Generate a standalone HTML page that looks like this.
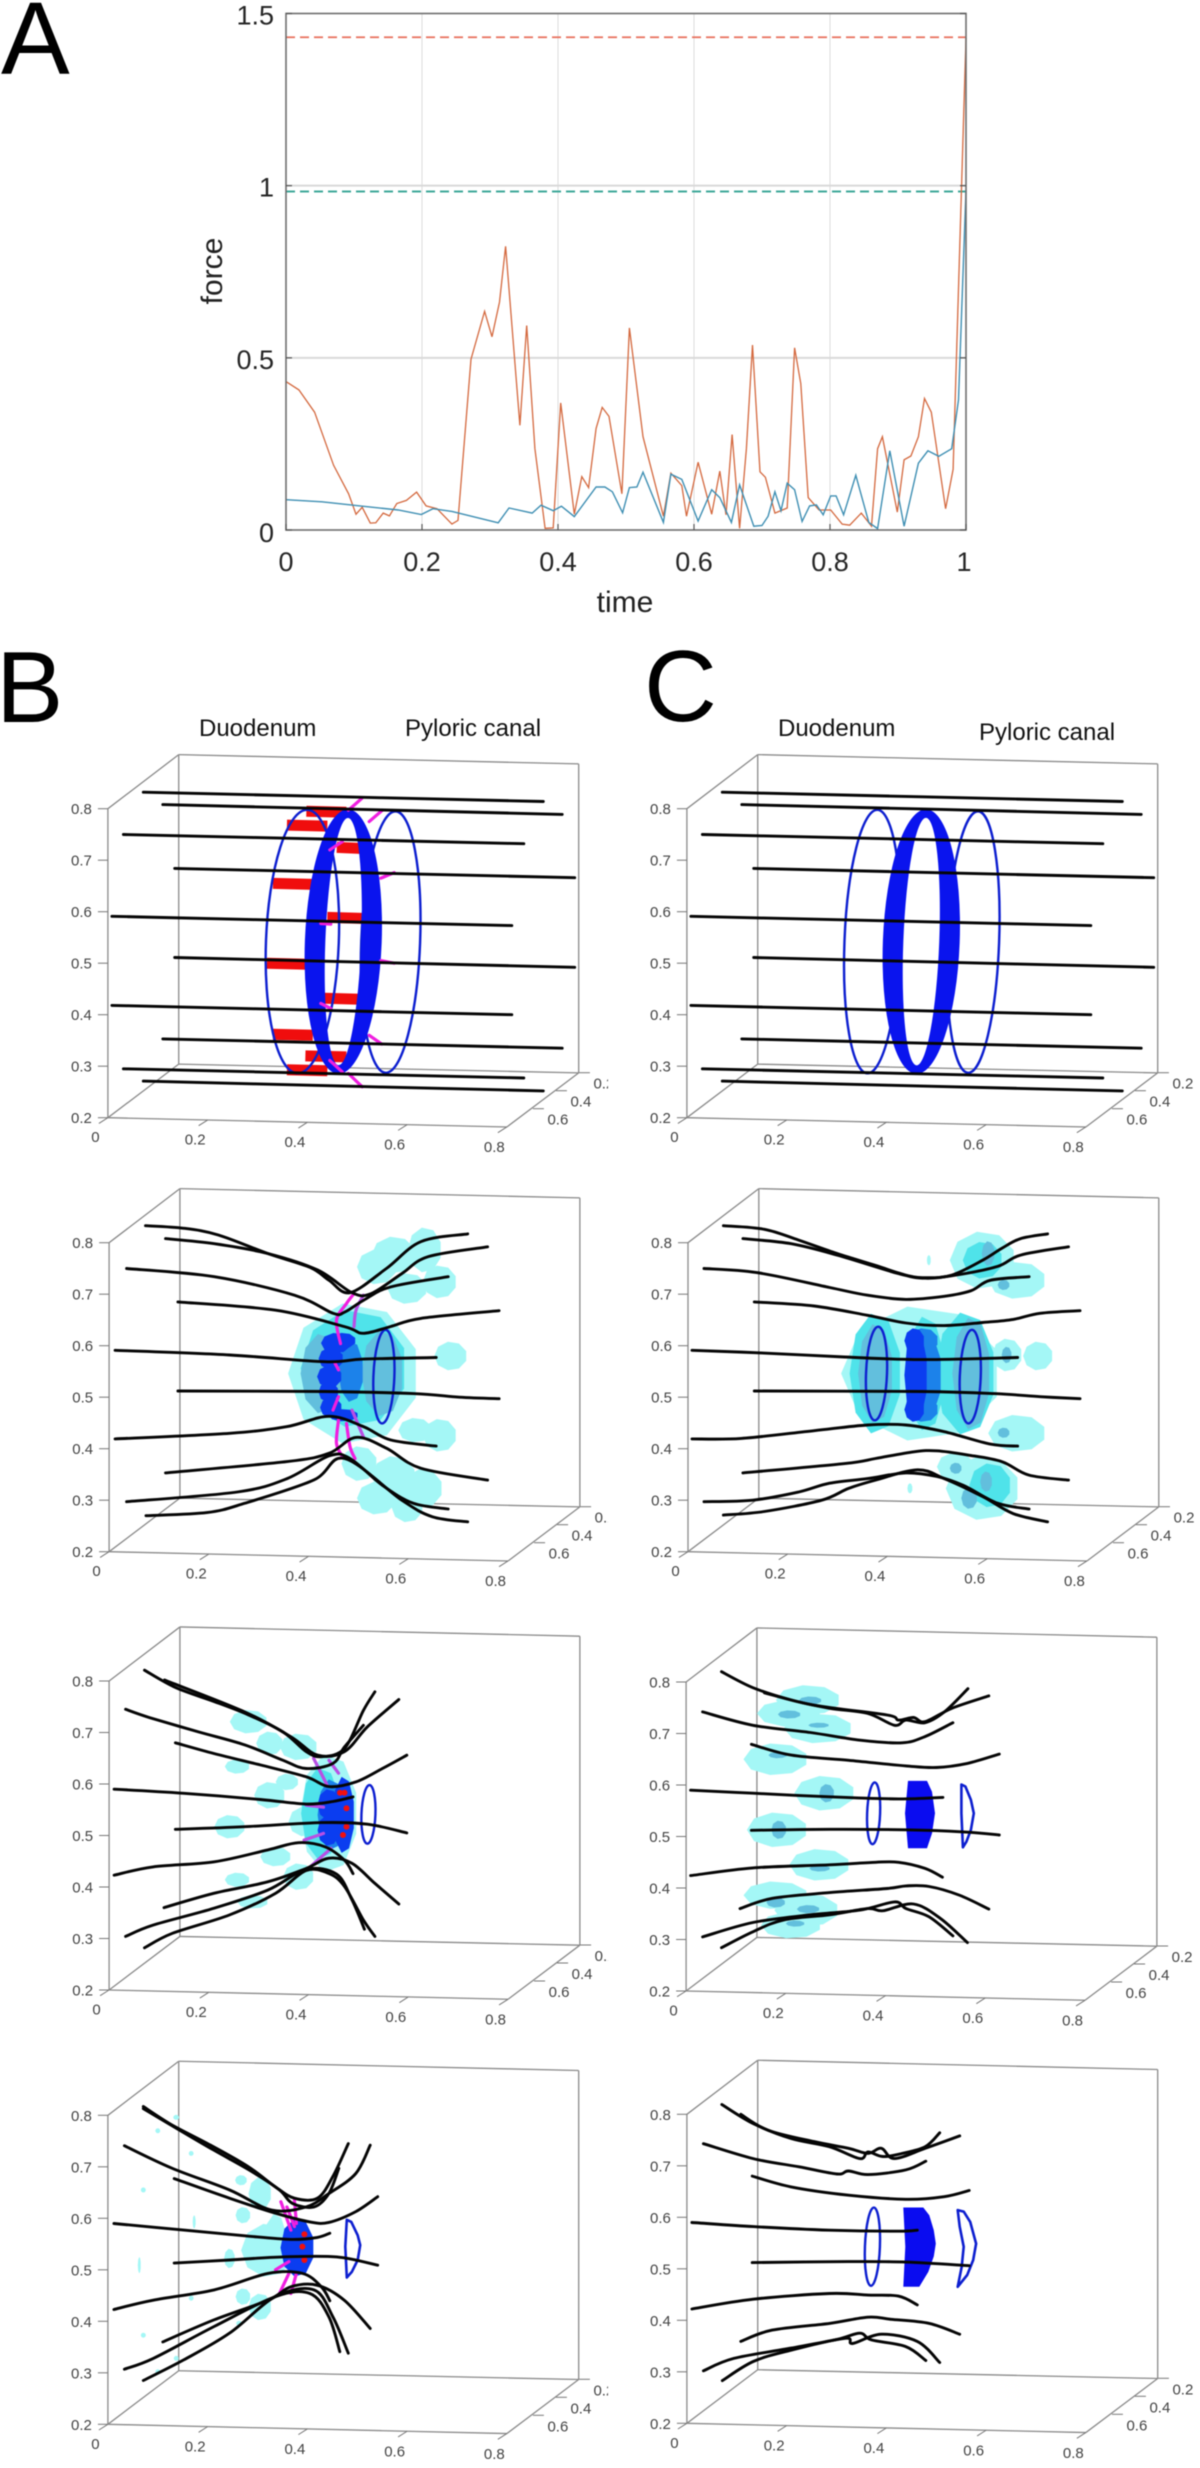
<!DOCTYPE html>
<html lang="en">
<head>
<meta charset="utf-8">
<title>Force over time and 3D duodenum simulation panels</title>
<style>
html,body{margin:0;padding:0;background:#fff;width:1200px;height:2468px;overflow:hidden}
svg{display:block;font-family:"Liberation Sans",Arial,sans-serif;filter:blur(0.5px)}
</style>
</head>
<body>
<svg id="fig" xmlns="http://www.w3.org/2000/svg" width="1200" height="2468" viewBox="0 0 1200 2468">
  <defs><clipPath id="clip-left"><rect x="0" y="0" width="608" height="2468"/></clipPath></defs>
  <rect width="1200" height="2468" fill="#fff"/>
  <text x="1" y="74" font-size="103" fill="#000">A</text>
  <text x="-4" y="722" font-size="101" fill="#000">B</text>
  <text x="644" y="721" font-size="101" fill="#000">C</text>
  <text transform="translate(222,271) rotate(-90)" text-anchor="middle" font-size="30" fill="#222">force</text>
  <text x="625" y="612" text-anchor="middle" font-size="30" fill="#222">time</text>
  <text x="199" y="736" font-size="24" fill="#111">Duodenum</text>
  <text x="405" y="736" font-size="24" fill="#111">Pyloric canal</text>
  <text x="778" y="736" font-size="24" fill="#111">Duodenum</text>
  <text x="979" y="740" font-size="24" fill="#111">Pyloric canal</text>
</svg>
<script>
/* ---------- Panel A data ---------- */
const xTicksA = [0, 0.2, 0.4, 0.6, 0.8, 1];
const yTicksA = [0, 0.5, 1, 1.5];
const thresholdOrange = 1.431;
const thresholdBlue = 0.983;
const timeOrange = [0,.019,.042,.07,.092,.103,.112,.124,.132,.143,.152,.163,.177,.192,.206,.222,.244,.253,.272,.292,.303,.314,.323,.344,.354,.366,.381,.393,.404,.424,.435,.445,.456,.465,.475,.494,.505,.525,.555,.566,.582,.589,.606,.626,.638,.647,.656,.667,.677,.686,.697,.705,.719,.737,.748,.757,.768,.784,.801,.818,.829,.846,.861,.87,.877,.899,.909,.919,.93,.939,.949,.97,.981,1];
const forceOrange = [.431,.407,.342,.188,.105,.046,.066,.02,.021,.049,.041,.077,.086,.11,.07,.062,.017,.028,.496,.635,.561,.662,.824,.304,.594,.236,.005,.006,.369,.046,.155,.123,.295,.356,.33,.105,.587,.271,.04,.165,.129,.04,.197,.046,.171,.044,.277,.005,.236,.537,.169,.153,.049,.064,.529,.425,.094,.058,.058,.017,.014,.049,.011,.236,.271,.052,.204,.215,.271,.382,.342,.062,.176,1.43];
const timeBlue = [0,.053,.109,.165,.199,.216,.244,.312,.328,.362,.375,.393,.405,.424,.456,.469,.48,.495,.505,.516,.525,.555,.566,.582,.606,.626,.638,.655,.667,.688,.7,.709,.719,.728,.737,.748,.759,.77,.78,.79,.801,.809,.82,.838,.857,.87,.888,.909,.93,.944,.96,.979,.989,1];
const forceBlue = [.088,.082,.07,.058,.045,.062,.054,.021,.064,.049,.072,.056,.069,.039,.125,.125,.111,.05,.123,.125,.168,.022,.162,.147,.026,.117,.094,.022,.131,.011,.013,.04,.111,.056,.136,.117,.025,.07,.073,.044,.099,.099,.044,.159,.022,.004,.23,.011,.194,.23,.214,.236,.378,.987];

/* ---------- 3D panel tick labels ---------- */
const frontTicks = [0, 0.2, 0.4, 0.6, 0.8];
const heightTicks = [0.2, 0.3, 0.4, 0.5, 0.6, 0.7, 0.8];
const depthTicks = [0.2, 0.4, 0.6];

/* ---------- Tube centre-lines, [projected x, height] ---------- */
const tubesStart = [
 [[.071,.832],[.873,.814]],[[.110,.808],[.911,.789]],[[.031,.750],[.834,.732]],[[.134,.684],[.936,.666]],[[.008,.591],[.810,.573]],
 [[.134,.511],[.936,.492]],[[.008,.418],[.810,.400]],[[.110,.353],[.911,.335]],[[.031,.295],[.834,.277]],[[.071,.271],[.873,.252]]
];
const tubesB2 = [
 [[.073,.833],[.150,.828],[.219,.815],[.318,.779],[.403,.752],[.441,.727],[.483,.703],[.556,.750],[.625,.802],[.719,.817]],
 [[.113,.808],[.211,.798],[.318,.779],[.418,.747],[.487,.703],[.525,.701],[.587,.740],[.640,.773],[.759,.792]],
 [[.035,.750],[.211,.734],[.372,.698],[.449,.663],[.472,.665],[.510,.688],[.564,.714],[.680,.734]],
 [[.138,.685],[.334,.669],[.472,.637],[.510,.624],[.564,.637],[.625,.653],[.782,.668]],
 [[.012,.591],[.242,.582],[.433,.569],[.510,.574],[.656,.577]],
 [[.138,.512],[.433,.511],[.610,.507],[.702,.500],[.782,.497]],
 [[.012,.419],[.242,.430],[.357,.443],[.441,.463],[.510,.443],[.564,.417],[.656,.405]],
 [[.113,.353],[.357,.375],[.441,.391],[.495,.422],[.556,.401],[.625,.362],[.759,.339]],
 [[.035,.297],[.257,.316],[.357,.342],[.441,.386],[.483,.381],[.548,.329],[.610,.294],[.680,.283]],
 [[.074,.270],[.196,.276],[.272,.294],[.410,.339],[.472,.381],[.587,.300],[.648,.268],[.719,.258]]
];
const tubesC2 = [
 [[.071,.833],[.153,.826],[.222,.805],[.299,.779],[.376,.756],[.437,.737],[.476,.732],[.529,.737],[.591,.766],[.629,.789],[.667,.808],[.721,.817]],
 [[.110,.808],[.207,.798],[.299,.776],[.422,.740],[.476,.731],[.537,.737],[.621,.754],[.667,.776],[.763,.792]],
 [[.032,.750],[.138,.742],[.284,.713],[.360,.698],[.437,.690],[.514,.696],[.568,.707],[.606,.727],[.684,.734]],
 [[.133,.685],[.253,.677],[.360,.659],[.437,.644],[.514,.639],[.591,.645],[.652,.651],[.706,.663],[.786,.668]],
 [[.008,.591],[.146,.586],[.314,.578],[.468,.573],[.661,.577]],
 [[.133,.512],[.468,.511],[.614,.507],[.706,.501],[.786,.497]],
 [[.008,.419],[.107,.420],[.253,.435],[.360,.446],[.437,.446],[.514,.433],[.606,.409],[.661,.405]],
 [[.110,.353],[.314,.371],[.376,.381],[.453,.394],[.499,.396],[.560,.388],[.629,.375],[.683,.349],[.763,.339]],
 [[.032,.297],[.130,.300],[.222,.316],[.284,.333],[.360,.342],[.437,.353],[.499,.346],[.552,.329],[.621,.294],[.684,.283]],
 [[.071,.271],[.153,.278],[.268,.300],[.322,.323],[.376,.339],[.460,.359],[.514,.342],[.591,.307],[.652,.274],[.721,.258]]
];
const tubesB3 = [
 [[.071,.821],[.134,.787],[.211,.760],[.280,.734],[.349,.701],[.395,.663],[.426,.653],[.472,.669],[.510,.743],[.533,.779]],
 [[.111,.802],[.272,.740],[.364,.692],[.418,.656],[.472,.663],[.518,.711],[.581,.764]],
 [[.033,.745],[.081,.729],[.180,.701],[.272,.676],[.349,.646],[.395,.630],[.449,.640],[.472,.672],[.510,.714]],
 [[.133,.680],[.211,.659],[.303,.637],[.395,.614],[.441,.595],[.495,.604],[.548,.630],[.597,.656]],
 [[.010,.590],[.150,.582],[.303,.570],[.395,.561],[.449,.566],[.489,.575]],
 [[.133,.512],[.272,.517],[.426,.525],[.518,.522],[.597,.505]],
 [[.010,.423],[.088,.439],[.211,.449],[.318,.472],[.380,.486],[.433,.478],[.472,.452],[.489,.426]],
 [[.110,.360],[.211,.388],[.318,.410],[.395,.436],[.441,.456],[.487,.446],[.533,.407],[.581,.367]],
 [[.033,.304],[.088,.326],[.211,.359],[.318,.394],[.395,.434],[.456,.425],[.487,.375],[.512,.318]],
 [[.071,.282],[.127,.310],[.242,.346],[.334,.388],[.395,.432],[.441,.426],[.472,.401],[.510,.336],[.533,.304]]
];
const tubesC3 = [
 [[.071,.820],[.134,.789],[.211,.765],[.288,.749],[.364,.739],[.418,.716],[.441,.726],[.479,.721],[.518,.742],[.565,.787]],
 [[.157,.779],[.257,.755],[.403,.736],[.426,.726],[.456,.731],[.479,.723],[.533,.749],[.607,.773]],
 [[.033,.742],[.134,.716],[.249,.702],[.349,.687],[.433,.682],[.479,.694],[.535,.721]],
 [[.131,.679],[.211,.658],[.326,.648],[.441,.637],[.502,.634],[.564,.642],[.628,.660]],
 [[.009,.590],[.134,.584],[.288,.577],[.426,.573],[.515,.576]],
 [[.131,.512],[.288,.514],[.441,.513],[.556,.509],[.628,.503]],
 [[.009,.424],[.134,.439],[.288,.445],[.380,.450],[.426,.450],[.479,.438],[.514,.421]],
 [[.108,.360],[.173,.380],[.288,.391],[.403,.399],[.441,.404],[.487,.403],[.548,.386],[.607,.359]],
 [[.033,.305],[.134,.333],[.249,.348],[.349,.357],[.418,.373],[.441,.360],[.487,.344],[.535,.307]],
 [[.071,.284],[.134,.315],[.196,.338],[.288,.348],[.364,.360],[.395,.356],[.456,.369],[.510,.341],[.564,.294]]
];
const tubesB4 = [
 [[.071,.817],[.129,.781],[.206,.742],[.282,.700],[.336,.661],[.374,.639],[.420,.639],[.451,.681],[.482,.745]],
 [[.071,.813],[.144,.771],[.213,.732],[.290,.690],[.344,.655],[.370,.629],[.413,.622],[.443,.648],[.463,.697]],
 [[.033,.741],[.129,.697],[.244,.655],[.328,.616],[.397,.622],[.443,.648],[.497,.687],[.526,.742]],
 [[.133,.677],[.244,.639],[.336,.610],[.405,.593],[.443,.592],[.497,.613],[.541,.642]],
 [[.012,.590],[.152,.577],[.275,.566],[.367,.559],[.420,.563],[.445,.571]],
 [[.133,.513],[.244,.519],[.351,.525],[.459,.525],[.541,.509]],
 [[.012,.423],[.091,.441],[.213,.461],[.321,.493],[.390,.493],[.428,.467],[.445,.440]],
 [[.110,.360],[.213,.403],[.321,.441],[.367,.467],[.420,.470],[.474,.441],[.526,.386]],
 [[.033,.307],[.091,.328],[.213,.390],[.336,.448],[.405,.454],[.443,.409],[.465,.341]],
 [[.071,.285],[.152,.325],[.244,.377],[.336,.448],[.413,.461],[.451,.409],[.482,.338]]
];
const tubesC4 = [
 [[.070,.819],[.133,.782],[.209,.753],[.286,.737],[.347,.714],[.363,.727],[.393,.718],[.432,.724],[.478,.737],[.507,.764]],
 [[.108,.800],[.163,.769],[.255,.747],[.324,.734],[.363,.724],[.390,.734],[.416,.714],[.478,.734],[.547,.758]],
 [[.033,.743],[.133,.714],[.225,.698],[.301,.684],[.324,.690],[.363,.683],[.439,.692],[.479,.709]],
 [[.131,.680],[.209,.659],[.324,.643],[.439,.635],[.516,.640],[.566,.652]],
 [[.010,.590],[.133,.582],[.286,.575],[.424,.573],[.462,.575]],
 [[.131,.512],[.324,.514],[.439,.513],[.566,.506]],
 [[.010,.422],[.133,.441],[.286,.452],[.363,.449],[.424,.447],[.462,.430]],
 [[.108,.359],[.171,.381],[.286,.394],[.363,.406],[.409,.402],[.486,.394],[.547,.373]],
 [[.033,.302],[.094,.326],[.209,.346],[.301,.363],[.347,.375],[.370,.362],[.439,.349],[.479,.322]],
 [[.071,.283],[.133,.320],[.209,.342],[.317,.365],[.332,.355],[.390,.373],[.462,.359],[.507,.318]]
];

/* ---------- Rings: [x, height, radius x, radius height] ---------- */
const ringsB1 = [[.390,.542,.073,.256],[.567,.541,.059,.254]];
const ringsC1 = [[.372,.542,.056,.256],[.574,.541,.052,.254]];
const thickB1 = [.472,.542,.077,.257,.036,.240];
const thickC1 = [.470,.542,.077,.257,.036,.240];
const ringsB2 = [[.551,.540,.021,.091]];
const ringsC2 = [[.378,.546,.021,.091],[.566,.540,.021,.091]];
const ringsB3 = [[.520,.541,.014,.057]];
const ringsC3 = [[.376,.545,.013,.060]];
const ringsC4 = [[.372,.543,.015,.076]];
const outlineC3 = [[.552,.601],[.560,.597],[.571,.571],[.577,.545],[.571,.513],[.562,.490],[.555,.479],[.552,.545]];
const outlineB4 = [[.479,.597],[.488,.593],[.501,.567],[.506,.548],[.501,.519],[.489,.496],[.479,.485],[.476,.545]];
const outlineC4 = [[.543,.614],[.555,.611],[.568,.591],[.580,.549],[.574,.517],[.562,.488],[.543,.465],[.551,.504],[.555,.543],[.547,.582]];
const solidC3 = [[.445,.608],[.483,.608],[.493,.587],[.499,.545],[.493,.506],[.483,.477],[.445,.477],[.439,.545]];
const solidC4 = [[.434,.619],[.474,.619],[.486,.604],[.495,.575],[.499,.549],[.495,.524],[.484,.494],[.466,.465],[.434,.465],[.438,.543]];

/* ---------- Contact bars and contact-force segments in the first row of B ---------- */
const redBarsB1 = [[.398,.478,.795],[.359,.440,.768],[.459,.505,.725],[.331,.411,.655],[.440,.509,.589],[.319,.399,.500],[.434,.505,.432],[.331,.411,.362],[.396,.478,.320],[.359,.440,.293]];
const magentaB1 = [
 [[.482,.797],[.509,.820]],[[.524,.775],[.549,.796]],[[.445,.720],[.470,.736]],[[.547,.665],[.574,.676]],[[.427,.577],[.447,.576]],
 [[.547,.505],[.574,.500]],[[.427,.422],[.447,.412]],[[.524,.360],[.549,.343]],[[.445,.311],[.470,.289]],[[.482,.286],[.510,.260]]
];
const magentaB2 = [
 [[.491,.701],[.476,.682],[.456,.650],[.464,.604]],
 [[.460,.456],[.456,.410],[.468,.384]],
 [[.476,.449],[.483,.404],[.493,.381]],
 [[.453,.566],[.460,.553]],
 [[.460,.501],[.449,.475]]
];
const purpleB2 = [[[.510,.698],[.495,.669],[.491,.637]],[[.487,.475],[.510,.423]]];
const magentaB3 = [];
const purpleB3 = [[[.410,.650],[.437,.598]],[[.441,.646],[.460,.621]],[[.395,.559],[.430,.555]],[[.391,.491],[.430,.504]],[[.403,.439],[.445,.475]]];
const magentaB4 = [[[.347,.632],[.367,.577]],[[.374,.635],[.378,.590]],[[.359,.622],[.374,.584]],[[.336,.500],[.363,.516]],[[.344,.454],[.363,.493]],[[.367,.454],[.378,.493]]];
const redDotsB3 = [[.472,.583],[.469,.501],[.476,.553],[.476,.517],[.463,.583]];
const redDotsB4 = [[.394,.569],[.390,.545],[.394,.519]];

/* ---------- Pressure contours, level then [x, height, radius x, radius height] ---------- */
const contourB2 = [
 [[.491,.546,.132,.138],[.537,.753,.040,.034],[.571,.776,.045,.036],[.633,.786,.034,.044],[.663,.724,.034,.032],[.598,.711,.040,.030],[.685,.580,.033,.028],[.663,.426,.034,.032],[.614,.436,.034,.024],[.502,.371,.036,.034],[.571,.346,.044,.040],[.537,.304,.040,.032],[.629,.323,.040,.038],[.598,.287,.032,.030]],
 [[.491,.556,.107,.115]],
 [[.426,.546,.042,.078],[.548,.546,.042,.084]],
 [[.485,.550,.025,.060]],
 [[.455,.605,.030,.020],[.445,.575,.025,.022],[.442,.540,.025,.022],[.440,.510,.020,.020],[.445,.480,.022,.020],[.470,.465,.030,.012],[.470,.610,.025,.015]]
];
const contourC2 = [
 [[.468,.546,.161,.132],[.591,.766,.066,.056],[.660,.727,.058,.036],[.702,.580,.030,.028],[.640,.582,.030,.032],[.660,.430,.058,.036],[.591,.323,.074,.062],[.537,.365,.038,.028],[.483,.766,.004,.010],[.445,.323,.005,.010]],
 [[.376,.546,.052,.118],[.556,.546,.060,.120],[.476,.546,.040,.112],[.591,.766,.040,.036],[.606,.329,.042,.043]],
 [[.376,.546,.035,.097],[.568,.546,.038,.110],[.602,.779,.013,.024],[.633,.718,.012,.010],[.633,.431,.012,.010],[.564,.304,.016,.021],[.598,.336,.012,.020],[.537,.362,.012,.011],[.639,.582,.010,.016]],
 [[.472,.543,.037,.091],[.472,.610,.030,.024],[.472,.476,.030,.024]],
 [[.457,.543,.023,.091],[.454,.610,.020,.024],[.454,.476,.020,.024]]
];
const contourB3 = [
 [[.280,.721,.038,.023],[.322,.679,.027,.023],[.257,.634,.025,.014],[.322,.578,.031,.026],[.357,.604,.023,.016],[.242,.517,.031,.023],[.391,.527,.031,.029],[.334,.459,.031,.019],[.257,.414,.025,.014],[.441,.543,.058,.116],[.380,.672,.038,.026],[.288,.371,.031,.013],[.380,.420,.031,.026]],
 [[.425,.543,.040,.090]],
 [],
 [[.445,.540,.027,.070]],
 [[.470,.540,.022,.075],[.440,.560,.022,.030],[.440,.510,.022,.030]]
];
const contourC3 = [
 [[.245,.765,.065,.029],[.207,.739,.065,.026],[.265,.710,.069,.029],[.180,.650,.065,.031],[.278,.584,.061,.034],[.183,.513,.061,.034],[.268,.445,.061,.031],[.180,.386,.065,.027],[.242,.357,.065,.032],[.211,.328,.061,.026]],
 [],
 [[.249,.764,.023,.008],[.207,.737,.023,.008],[.266,.716,.021,.005],[.184,.658,.019,.006],[.282,.584,.015,.018],[.186,.513,.015,.018],[.268,.438,.021,.006],[.245,.359,.023,.008],[.180,.372,.019,.010],[.219,.331,.019,.006]],
 [],
 []
];
const contourB4 = [
 [[.321,.538,.054,.052],[.267,.674,.012,.010],[.305,.648,.023,.032],[.271,.606,.015,.016],[.244,.522,.011,.019],[.271,.448,.015,.016],[.305,.428,.023,.026],[.336,.551,.023,.058],[.137,.796,.006,.005],[.100,.770,.005,.005],[.167,.726,.005,.005],[.071,.655,.005,.005],[.173,.593,.003,.013],[.063,.509,.003,.016],[.167,.445,.005,.005],[.071,.373,.005,.005],[.137,.328,.005,.005],[.100,.302,.005,.005],[.263,.396,.006,.005]],
 [],
 [],
 [],
 [[.380,.543,.034,.057]]
];

/* ---------- Rendering ---------- */
const svg = document.getElementById('fig');
const NS = 'http://www.w3.org/2000/svg';
function mk(tag, attrs, parent) {
  const el = document.createElementNS(NS, tag);
  for (const k in attrs) el.setAttribute(k, attrs[k]);
  (parent || svg).appendChild(el);
  return el;
}
/* Panel A axes */
const aL = 286, aR = 966, aT = 13.5, aB = 530;
const xA = t => aL + t * (aR - aL);
const yA = f => aB - f / 1.5 * (aB - aT);
const gA = mk('g', {});


xTicksA.slice(1, -1).forEach(t => {
  const el = mk('line', {x1: xA(t), x2: xA(t), y1: aT, y2: aB, stroke: '#dcdcdc', 'stroke-width': 1}, gA);
  
  
});
yTicksA.slice(1, -1).forEach(f => {
  const el = mk('line', {x1: aL, x2: aR, y1: yA(f), y2: yA(f), stroke: '#d9d9d9', 'stroke-width': 2}, gA);
  
  
});
const dashO = mk('line', {x1: aL, x2: aR, y1: yA(thresholdOrange), y2: yA(thresholdOrange), stroke: '#e8705c', 'stroke-width': 1.8, 'stroke-dasharray': '9 5'}, gA);


const dashB = mk('line', {x1: aL, x2: aR, y1: yA(thresholdBlue), y2: yA(thresholdBlue), stroke: '#3fa89a', 'stroke-width': 2, 'stroke-dasharray': '9 5'}, gA);


const seriesO = mk('polyline', {points: timeOrange.map((t, i) => xA(t).toFixed(1) + ',' + yA(forceOrange[i]).toFixed(1)).join(' '), fill: 'none', stroke: '#d4693f', 'stroke-width': 1.3}, gA);


const seriesB = mk('polyline', {points: timeBlue.map((t, i) => xA(t).toFixed(1) + ',' + yA(forceBlue[i]).toFixed(1)).join(' '), fill: 'none', stroke: '#3f8fb3', 'stroke-width': 1.4}, gA);


const boxA = mk('rect', {x: aL, y: aT, width: aR - aL, height: aB - aT, fill: 'none', stroke: '#6e6e6e', 'stroke-width': 1.6}, gA);


xTicksA.forEach(t => {
  const tick = mk('line', {x1: xA(t), x2: xA(t), y1: aB, y2: aB - 6, stroke: '#555', 'stroke-width': 1.2}, gA);
  
  
  const label = mk('text', {x: t === 1 ? xA(t) - 2 : xA(t), y: 571, 'text-anchor': 'middle', 'font-size': 27, fill: '#262626'}, gA);
  
  
  label.textContent = String(t);
});
yTicksA.forEach(f => {
  [aL, aR].forEach(x0 => {
    const tick = mk('line', {x1: x0, x2: x0 === aL ? x0 + 6 : x0 - 6, y1: yA(f), y2: yA(f), stroke: '#555', 'stroke-width': 1.2}, gA);
    
    
  });
  const label = mk('text', {x: 274, y: yA(f) + (f === 0 ? 12 : 11), 'text-anchor': 'end', 'font-size': 27, fill: '#262626'}, gA);
  
  
  label.textContent = String(f);
});

/* 3D panels: linear mapping of the projected x and height values */
const UX = 498.7, VY = 515;
const contourColors = ['#a4f7f6', '#4fe3ea', '#62bfdd', '#1c82ea', '#0b3df0'];
function smoothPath(pts) {
  let d = 'M' + pts[0][0].toFixed(1) + ' ' + pts[0][1].toFixed(1);
  for (let i = 0; i < pts.length - 1; i++) {
    const p0 = pts[Math.max(i - 1, 0)], p1 = pts[i], p2 = pts[i + 1], p3 = pts[Math.min(i + 2, pts.length - 1)];
    const c1 = [p1[0] + (p2[0] - p0[0]) / 6, p1[1] + (p2[1] - p0[1]) / 6];
    const c2 = [p2[0] - (p3[0] - p1[0]) / 6, p2[1] - (p3[1] - p1[1]) / 6];
    d += 'C' + c1[0].toFixed(1) + ' ' + c1[1].toFixed(1) + ' ' + c2[0].toFixed(1) + ' ' + c2[1].toFixed(1) + ' ' + p2[0].toFixed(1) + ' ' + p2[1].toFixed(1);
  }
  return d;
}
function drawPanel(p) {
  const sx = u => p.ox + u * UX;
  const sy = v => p.oy - (v - 0.2) * VY;
  const dx = d => p.ox + 471 - (d - 0.2) * 115;
  const dy = d => p.oy - 45 + (d - 0.2) * 90;
  const g = mk('g', {});
  
  
  const frame = [[0, .2, 0, .8], [0, .8, .142, .905], [.142, .905, .944, .887], [.944, .887, .944, .287], [.944, .287, .142, .304], [.142, .304, .142, .905], [.142, .304, 0, .2], [0, .2, .8, .182], [.8, .182, .944, .287]];
  frame.forEach(f => {
    const el = mk('line', {x1: sx(f[0]), y1: sy(f[1]), x2: sx(f[2]), y2: sy(f[3]), stroke: '#8a8a8a', 'stroke-width': 1.3}, g);
    
    
  });
  heightTicks.forEach(v => {
    const tick = mk('line', {x1: sx(0) - 10, x2: sx(0), y1: sy(v), y2: sy(v), stroke: '#777', 'stroke-width': 1}, g);
    
    
    const label = mk('text', {x: sx(0) - 16, y: sy(v) + 5.5, 'text-anchor': 'end', 'font-size': 15, fill: '#444'}, g);
    
    
    label.textContent = v.toFixed(1);
  });
  frontTicks.forEach(u => {
    const y0 = p.oy + u * 11.6;
    const tick = mk('line', {x1: sx(u), x2: sx(u) - 9, y1: y0, y2: y0 + 5.7, stroke: '#777', 'stroke-width': 1}, g);
    
    
    const label = mk('text', {x: sx(u) - 12.5, y: p.oy + 24.5 + u * 12.5, 'text-anchor': 'middle', 'font-size': 15, fill: '#444'}, g);
    
    
    label.textContent = u === 0 ? '0' : u.toFixed(1);
  });
  const depthGroup = mk('g', p.clip ? {'clip-path': 'url(#clip-left)'} : {}, g);
  
  
  depthTicks.forEach(d => {
    const tick = mk('line', {x1: dx(d), x2: dx(d) + 11, y1: dy(d), y2: dy(d), stroke: '#777', 'stroke-width': 1}, depthGroup);
    
    
    const label = mk('text', {x: dx(d) + 25, y: dy(d) + 16, 'text-anchor': 'middle', 'font-size': 15, fill: '#444'}, depthGroup);
    
    
    label.textContent = d.toFixed(1);
  });
  (p.contour || []).forEach((level, li) => {
    level.forEach(b => {
      const pts = [];
      const n = 9;
      for (let i = 0; i < n; i++) {
        const a = (i + 0.5) / n * Math.PI * 2;
        pts.push((sx(b[0]) + Math.cos(a) * b[2] * UX).toFixed(1) + ',' + (sy(b[1]) + Math.sin(a) * b[3] * VY).toFixed(1));
      }
      const el = mk('polygon', {points: pts.join(' '), fill: contourColors[li]}, g);
      
      
    });
  });
  (p.bars || []).forEach(b => {
    const el = mk('line', {x1: sx(b[0]), x2: sx(b[1]), y1: sy(b[2]), y2: sy(b[2]) + 1, stroke: '#f00d0d', 'stroke-width': 11}, g);
    
    
  });
  (p.rings || []).forEach(r => {
    const cx = sx(r[0]), cy = sy(r[1]);
    const el = mk('ellipse', {cx: cx, cy: cy, rx: r[2] * UX, ry: r[3] * VY, fill: 'none', stroke: '#0d1fd0', 'stroke-width': 2.4, transform: 'rotate(2.2 ' + cx + ' ' + cy + ')'}, g);
    
    
  });
  (p.outlines || []).forEach(o => {
    const el = mk('polygon', {points: o.map(q => sx(q[0]).toFixed(1) + ',' + sy(q[1]).toFixed(1)).join(' '), fill: 'none', stroke: '#0d1fd0', 'stroke-width': 2.6, 'stroke-linejoin': 'round'}, g);
    
    
  });
  (p.solids || []).forEach(o => {
    const el = mk('polygon', {points: o.map(q => sx(q[0]).toFixed(1) + ',' + sy(q[1]).toFixed(1)).join(' '), fill: '#0a0cf0'}, g);
    
    
  });
  if (p.thick) {
    const t = p.thick;
    const cx = sx(t[0]), cy = sy(t[1]);
    const rx = t[2] * UX, ry = t[3] * VY, ix = t[4] * UX, iy = t[5] * VY;
    const d = 'M' + (cx - rx) + ' ' + cy + 'a' + rx + ' ' + ry + ' 0 1 0 ' + (2 * rx) + ' 0a' + rx + ' ' + ry + ' 0 1 0 ' + (-2 * rx) + ' 0Z' +
              'M' + (cx - ix) + ' ' + cy + 'a' + ix + ' ' + iy + ' 0 1 0 ' + (2 * ix) + ' 0a' + ix + ' ' + iy + ' 0 1 0 ' + (-2 * ix) + ' 0Z';
    const el = mk('path', {d: d, 'fill-rule': 'evenodd', fill: '#0a14ee', transform: 'rotate(2.2 ' + cx + ' ' + cy + ')'}, g);
    
    
  }
  (p.dots || []).forEach(q => {
    const el = mk('circle', {cx: sx(q[0]), cy: sy(q[1]), r: 3, fill: '#f01010'}, g);
    
    
  });
  [[p.magenta, '#f01fe0'], [p.purple, '#b84fe4']].forEach(pair => {
    (pair[0] || []).forEach(s => {
      const el = mk('path', {d: smoothPath(s.map(q => [sx(q[0]), sy(q[1])])), fill: 'none', stroke: pair[1], 'stroke-width': 3.2, 'stroke-linecap': 'round'}, g);
      
      
    });
  });
  p.tubes.forEach(t => {
    const el = mk('path', {d: smoothPath(t.map(q => [sx(q[0]), sy(q[1])])), fill: 'none', stroke: '#050505', 'stroke-width': 2.9, 'stroke-linecap': 'round'}, g);
    
    
  });
}
drawPanel({id: 'b1', ox: 107.9, oy: 1117.7, clip: true, tubes: tubesStart, rings: ringsB1, thick: thickB1, bars: redBarsB1, magenta: magentaB1});
drawPanel({id: 'c1', ox: 686.9, oy: 1117.7, tubes: tubesStart, rings: ringsC1, thick: thickC1});
drawPanel({id: 'b2', ox: 109.1, oy: 1551.7, clip: true, tubes: tubesB2, contour: contourB2, rings: ringsB2, magenta: magentaB2, purple: purpleB2});
drawPanel({id: 'c2', ox: 688, oy: 1551.7, tubes: tubesC2, contour: contourC2, rings: ringsC2});
drawPanel({id: 'b3', ox: 109.1, oy: 1990, clip: true, tubes: tubesB3, contour: contourB3, rings: ringsB3, dots: redDotsB3, magenta: magentaB3, purple: purpleB3});
drawPanel({id: 'c3', ox: 686.1, oy: 1991, tubes: tubesC3, contour: contourC3, rings: ringsC3, outlines: [outlineC3], solids: [solidC3]});
drawPanel({id: 'b4', ox: 107.9, oy: 2424.3, clip: true, tubes: tubesB4, contour: contourB4, outlines: [outlineB4], dots: redDotsB4, magenta: magentaB4});
drawPanel({id: 'c4', ox: 686.9, oy: 2423.3, tubes: tubesC4, rings: ringsC4, outlines: [outlineC4], solids: [solidC4]});
</script>
</body>
</html>
